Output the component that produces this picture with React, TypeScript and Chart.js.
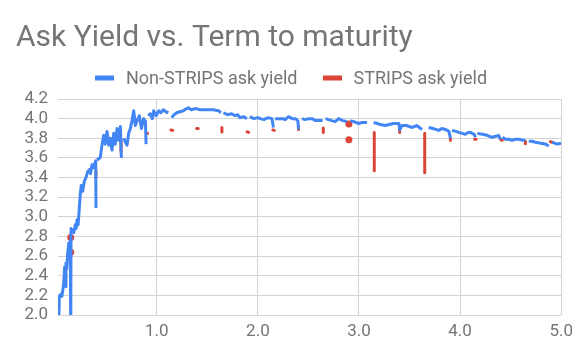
import React, { useEffect, useRef } from "react";
import { Chart, registerables } from "chart.js";

Chart.register(...registerables);

const chartTitle = "Ask Yield vs. Term to maturity";
const seriesNames = ["Non-STRIPS ask yield", "STRIPS ask yield"];
const seriesColors = ["#4285F4", "#DB4437"];
const xTickValues = [1, 2, 3, 4, 5];
const xMin = 0.023;
const xMax = 5.0;
const yMin = 2.0;
const yMax = 4.2;
const yStep = 0.2;

// [term to maturity (years), ask yield (%)]; null yield = gap in the line
const nonStripsSeries: [number, number | null][] = [
  [0.030, 1.90], [0.036, 2.19], [0.050, 2.21], [0.062, 2.19], [0.079, 2.32],
  [0.089, 2.49], [0.095, 2.29], [0.102, 2.53], [0.110, 2.47], [0.119, 2.63],
  [0.129, 2.73], [0.137, 2.62], [0.145, 2.76], [0.149, 1.70], [0.152, 2.88],
  [0.165, 2.86], [0.180, 2.84], [0.194, 2.92], [0.203, 2.88], [0.211, 2.97],
  [0.222, 2.92], [0.232, 3.06], [0.244, 3.24], [0.253, 3.32], [0.267, 3.26],
  [0.283, 3.36], [0.303, 3.41], [0.317, 3.46], [0.333, 3.48], [0.345, 3.44],
  [0.359, 3.53], [0.372, 3.50], [0.385, 3.54], [0.396, 3.57], [0.399, 3.09],
  [0.401, null], [0.409, 3.58], [0.425, 3.59], [0.442, 3.61], [0.458, 3.73],
  [0.475, 3.83], [0.491, 3.74], [0.508, 3.87], [0.525, 3.73], [0.540, 3.80],
  [0.557, 3.68], [0.574, 3.85], [0.590, 3.74], [0.607, 3.90], [0.623, 3.78],
  [0.640, 3.92], [0.650, 3.60], [0.655, null], [0.673, 3.80], [0.690, 3.76],
  [0.706, 3.73], [0.722, 3.85], [0.739, 3.90], [0.755, 3.98], [0.772, 4.08],
  [0.788, 3.93], [0.805, 3.98], [0.828, 4.03], [0.848, 3.90], [0.871, 4.00],
  [0.888, 3.97], [0.894, 3.74], [0.900, null], [0.914, 4.03], [0.937, 4.05],
  [0.955, 4.00], [0.970, 4.08], [0.993, 4.03], [1.020, 4.08], [1.040, 4.06],
  [1.065, 4.09], [1.090, 4.07], [1.115, 4.06], [1.130, null], [1.149, 4.01],
  [1.170, 4.04], [1.198, 4.06], [1.230, 4.07], [1.263, 4.08], [1.290, 4.10],
  [1.313, 4.11], [1.340, 4.09], [1.370, 4.10], [1.396, 4.10], [1.430, 4.09],
  [1.470, 4.09], [1.511, 4.09], [1.560, 4.09], [1.610, 4.08], [1.635, 4.06],
  [1.644, null], [1.659, 4.06], [1.700, 4.04], [1.740, 4.05], [1.775, 4.03],
  [1.800, 4.04], [1.825, 4.01], [1.860, 4.02], [1.891, 4.00], [1.900, null],
  [1.920, 4.02], [1.960, 4.00], [2.000, 4.01], [2.023, 4.00], [2.060, 3.99],
  [2.100, 4.01], [2.139, 4.00], [2.154, 3.91], [2.160, null], [2.170, 4.00],
  [2.210, 4.00], [2.253, 4.00], [2.270, 3.99], [2.303, 4.02], [2.340, 4.00],
  [2.370, 4.00], [2.395, 3.98], [2.402, 3.89], [2.410, null], [2.436, 4.00],
  [2.470, 3.99], [2.500, 4.00], [2.535, 4.00], [2.570, 3.98], [2.600, 3.98],
  [2.640, 3.98], [2.647, null], [2.670, 4.00], [2.699, 3.99], [2.730, 3.98],
  [2.765, 3.97], [2.798, 4.00], [2.840, 3.98], [2.880, 3.97], [2.900, null],
  [2.914, 3.98], [2.950, 3.97], [2.996, 3.95], [3.030, 3.96], [3.080, 3.96],
  [3.110, null], [3.145, 3.96], [3.180, 3.95], [3.211, 3.94], [3.260, 3.93],
  [3.300, 3.94], [3.340, 3.95], [3.395, 3.95], [3.402, 3.885], [3.426, 3.93],
  [3.470, 3.93], [3.525, 3.91], [3.570, 3.93], [3.624, 3.89], [3.650, null],
  [3.689, 3.91], [3.730, 3.90], [3.760, 3.89], [3.788, 3.88], [3.820, 3.90],
  [3.855, 3.89], [3.890, 3.87], [3.904, 3.80], [3.910, null], [3.920, 3.88],
  [3.960, 3.87], [3.986, 3.86], [4.020, 3.85], [4.052, 3.84], [4.080, 3.86],
  [4.101, 3.86], [4.140, 3.84], [4.151, 3.81], [4.155, null], [4.170, 3.85],
  [4.220, 3.84], [4.267, 3.83], [4.317, 3.81], [4.350, 3.82], [4.380, 3.83],
  [4.399, 3.79], [4.405, null], [4.420, 3.81], [4.449, 3.79], [4.480, 3.79],
  [4.515, 3.78], [4.550, 3.79], [4.580, 3.79], [4.620, 3.78], [4.646, 3.78],
  [4.650, null], [4.679, 3.77], [4.710, 3.77], [4.745, 3.76], [4.800, 3.75],
  [4.850, 3.74], [4.877, 3.72], [4.890, null], [4.910, 3.76], [4.960, 3.74],
  [5.000, 3.75],
];

const stripsSeries: [number, number | null][] = [
  [0.149, 2.79], [0.149, null], [0.149, 2.64], [0.149, null],
  [0.399, 3.47], [0.399, 3.40], [0.399, null],
  [0.646, 3.78], [0.646, 3.66], [0.646, null],
  [0.895, 3.855], [0.910, 3.85], [0.910, null],
  [1.140, 3.885], [1.158, 3.88], [1.158, null],
  [1.394, 3.90], [1.410, 3.90], [1.410, null],
  [1.644, 3.91], [1.644, 3.865], [1.644, null],
  [1.893, 3.865], [1.909, 3.86], [1.909, null],
  [2.148, 3.885], [2.162, 3.88], [2.162, null],
  [2.402, 3.925], [2.402, 3.89], [2.402, null],
  [2.647, 3.905], [2.647, 3.86], [2.647, null],
  [2.900, 3.945], [2.900, null], [2.900, 3.785], [2.900, null],
  [3.151, 3.86], [3.151, 3.47], [3.151, null],
  [3.402, 3.89], [3.402, 3.86], [3.402, null],
  [3.650, 3.85], [3.650, 3.45], [3.650, null],
  [3.904, 3.80], [3.904, 3.78], [3.904, null],
  [4.144, 3.79], [4.158, 3.79], [4.158, null],
  [4.403, 3.785], [4.417, 3.78], [4.417, null],
  [4.646, 3.77], [4.646, 3.745], [4.646, null],
  [4.893, 3.765], [4.909, 3.76],
];

const toPoints = (s: [number, number | null][]) => s.map(([x, y]) => ({ x, y }));

const isIsolated = (ctx: any) => {
  const d = ctx.dataset.data as { x: number; y: number | null }[];
  const i = ctx.dataIndex;
  if (!d[i] || d[i].y === null) return false;
  const prev = d[i - 1];
  const next = d[i + 1];
  return (!prev || prev.y === null) && (!next || next.y === null);
};

const textColor = "#757575";
const gridColor = "#d3d3d3";

const headerPlugin = {
  id: "customHeader",
  afterDraw(chart: any) {
    const ctx = chart.ctx as CanvasRenderingContext2D;
    ctx.save();
    ctx.fillStyle = textColor;
    ctx.textAlign = "left";
    ctx.textBaseline = "alphabetic";
    ctx.font = "30px Roboto";
    ctx.fillText(chartTitle, 16, 46);

    ctx.font = "18px Roboto";
    const widths = seriesNames.map((n) => ctx.measureText(n).width);
    const boxW = 19;
    const boxH = 5;
    const gapBoxText = 12;
    const gapItems = 25;
    const total = boxW + gapBoxText + widths[0] + gapItems + boxW + gapBoxText + widths[1];
    let x = 291 - total / 2;
    const cy = 78;
    ctx.textBaseline = "middle";
    seriesNames.forEach((name, i) => {
      ctx.fillStyle = seriesColors[i];
      ctx.fillRect(Math.round(x), cy - boxH / 2, boxW, boxH);
      x += boxW + gapBoxText;
      ctx.fillStyle = textColor;
      ctx.fillText(name, x, cy + 1);
      x += widths[i] + gapItems;
    });
    ctx.restore();
  },
};

export default function App() {
  const canvasRef = useRef<HTMLCanvasElement | null>(null);

  useEffect(() => {
    if (!canvasRef.current) return;
    const chart = new Chart(canvasRef.current, {
      type: "line",
      data: {
        datasets: [
          {
            label: seriesNames[0],
            data: toPoints(nonStripsSeries),
            borderColor: seriesColors[0],
            backgroundColor: seriesColors[0],
            borderWidth: 3,
            borderJoinStyle: "round",
            pointRadius: 0,
            pointHoverRadius: 0,
            tension: 0,
            spanGaps: false,
          },
          {
            label: seriesNames[1],
            data: toPoints(stripsSeries),
            borderColor: seriesColors[1],
            backgroundColor: seriesColors[1],
            borderWidth: 3,
            borderCapStyle: "round",
            pointRadius: (ctx: any) => (isIsolated(ctx) ? 3.5 : 0),
            pointBorderWidth: 0,
            pointBackgroundColor: seriesColors[1],
            pointHoverRadius: 0,
            tension: 0,
            spanGaps: false,
          },
        ] as any,
      },
      options: {
        responsive: false,
        animation: false,
        layout: { padding: { top: 99, right: 18, bottom: 0, left: 0 } },
        plugins: {
          legend: { display: false },
          title: { display: false },
          tooltip: { enabled: false },
        },
        scales: {
          x: {
            type: "linear",
            min: xMin,
            max: xMax,
            afterBuildTicks: (scale: any) => {
              scale.ticks = xTickValues.map((v) => ({ value: v }));
            },
            afterFit: (scale: any) => {
              scale.height = 45;
            },
            ticks: {
              autoSkip: false,
              maxRotation: 0,
              padding: 7,
              color: textColor,
              font: { family: "Roboto", size: 17 },
              callback: (v: any) => Number(v).toFixed(1),
            },
            grid: { color: gridColor, drawTicks: false, lineWidth: 1 },
            border: { display: false },
          },
          y: {
            type: "linear",
            min: yMin,
            max: yMax,
            afterFit: (scale: any) => {
              scale.width = 58;
            },
            ticks: {
              stepSize: yStep,
              autoSkip: false,
              padding: 10,
              color: textColor,
              font: { family: "Roboto", size: 17 },
              callback: (v: any) => Number(v).toFixed(1),
            },
            grid: { color: gridColor, drawTicks: false, lineWidth: 1 },
            border: { display: false },
          },
        },
      },
      plugins: [headerPlugin],
    } as any);
    return () => chart.destroy();
  }, []);

  return (
    <div style={{ position: "absolute", left: 0, top: 0, width: 580, height: 360, background: "#fff" }}>
      <canvas ref={canvasRef} width={580} height={360} style={{ width: 580, height: 360, display: "block" }} />
    </div>
  );
}
